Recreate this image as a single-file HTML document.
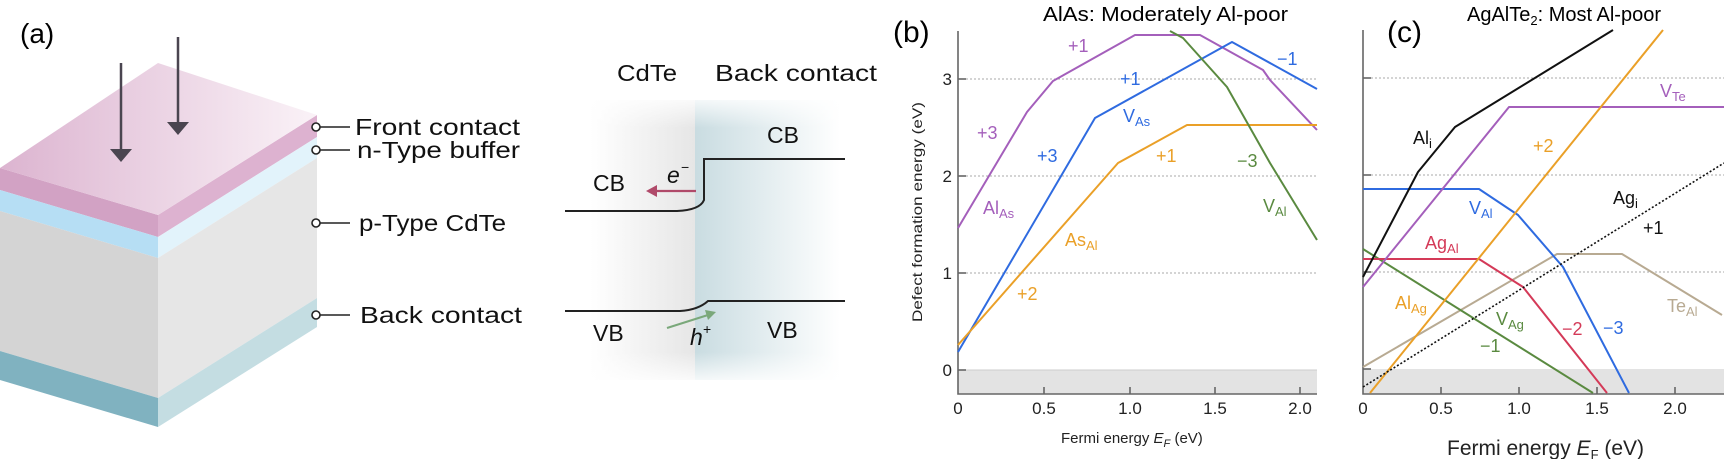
<!DOCTYPE html>
<html><head><meta charset="utf-8"><style>
html,body{margin:0;padding:0;background:#fff;}
svg{display:block;}
text{font-family:"Liberation Sans",sans-serif;}
</style></head><body>
<svg width="1724" height="459" viewBox="0 0 1724 459" xmlns="http://www.w3.org/2000/svg">
<defs>
<linearGradient id="topg" x1="0" y1="0" x2="1" y2="0">
<stop offset="0" stop-color="#dcb4d0"/><stop offset="1" stop-color="#faf2f7"/></linearGradient>
<linearGradient id="band" x1="0" y1="0" x2="1" y2="0">
<stop offset="0" stop-color="#ffffff"/><stop offset="0.42" stop-color="#e6e6e6"/>
<stop offset="0.42" stop-color="#c9dce1"/><stop offset="1" stop-color="#ffffff"/></linearGradient>
<linearGradient id="bandv" x1="0" y1="0" x2="0" y2="1">
<stop offset="0" stop-color="#fff" stop-opacity="0.8"/><stop offset="0.1" stop-color="#fff" stop-opacity="0"/>
<stop offset="0.9" stop-color="#fff" stop-opacity="0"/><stop offset="1" stop-color="#fff" stop-opacity="0.8"/></linearGradient>
</defs>

<!-- Panel (a) -->
<text x="20" y="43" font-size="28">(a)</text>
<!-- left face layers -->
<polygon points="0,168 158,215 158,237 0,190" fill="#d2a2c4"/>
<polygon points="0,190 158,237 158,258 0,211" fill="#b6def4"/>
<polygon points="0,211 158,258 158,398 0,351" fill="#d4d4d4"/>
<polygon points="0,351 158,398 158,427 0,380" fill="#80b2c0"/>
<!-- right face layers -->
<polygon points="158,215 317,115 317,137 158,237" fill="#ddb2d0"/>
<polygon points="158,237 317,137 317,158 158,258" fill="#e2f3fb"/>
<polygon points="158,258 317,158 317,298 158,398" fill="#e6e6e6"/>
<polygon points="158,398 317,298 317,327 158,427" fill="#c4dde2"/>
<!-- top face -->
<polygon points="0,168 158,63 317,115 158,215" fill="url(#topg)"/>
<!-- arrows -->
<line x1="121" y1="63" x2="121" y2="150" stroke="#4a4550" stroke-width="2.5"/>
<polygon points="110,149 132,149 121,162" fill="#4a4550"/>
<line x1="178" y1="37" x2="178" y2="123" stroke="#4a4550" stroke-width="2.5"/>
<polygon points="167,122 189,122 178,135" fill="#4a4550"/>
<!-- labels -->
<g stroke="#222" stroke-width="1.6" fill="#fff">
<line x1="320" y1="127" x2="350" y2="127"/><circle cx="316" cy="127" r="4"/>
<line x1="320" y1="150" x2="350" y2="150"/><circle cx="316" cy="150" r="4"/>
<line x1="320" y1="223" x2="350" y2="223"/><circle cx="316" cy="223" r="4"/>
<line x1="320" y1="315" x2="350" y2="315"/><circle cx="316" cy="315" r="4"/>
</g>
<g font-size="23" fill="#111">
<text x="355" y="135" textLength="165" lengthAdjust="spacingAndGlyphs">Front contact</text>
<text x="357" y="158" textLength="163" lengthAdjust="spacingAndGlyphs">n-Type buffer</text>
<text x="359" y="231" textLength="147" lengthAdjust="spacingAndGlyphs">p-Type CdTe</text>
<text x="360" y="323" textLength="162" lengthAdjust="spacingAndGlyphs">Back contact</text>
</g>
<!-- band diagram -->
<rect x="590" y="100" width="250" height="280" fill="url(#band)"/>
<rect x="590" y="100" width="250" height="280" fill="url(#bandv)"/>
<g font-size="23" fill="#111">
<text x="617" y="81" textLength="60" lengthAdjust="spacingAndGlyphs">CdTe</text>
<text x="715" y="81" textLength="162" lengthAdjust="spacingAndGlyphs">Back contact</text>
<text x="593" y="191">CB</text>
<text x="767" y="143">CB</text>
<text x="593" y="341">VB</text>
<text x="767" y="338">VB</text>
<text x="667" y="183" font-style="italic">e</text><text x="681" y="172" font-size="14">−</text>
<text x="690" y="345" font-style="italic">h</text><text x="703" y="334" font-size="14">+</text>
</g>
<path d="M565,211 L677,211 Q700,210 704,200 L704,159 L845,159" fill="none" stroke="#222" stroke-width="2"/>
<path d="M565,311 L680,311 Q698,310 708,301 L845,301" fill="none" stroke="#222" stroke-width="2"/>
<line x1="696" y1="191" x2="655" y2="191" stroke="#b04a6a" stroke-width="2.2"/>
<polygon points="646,191 657,185 657,197" fill="#b04a6a"/>
<line x1="667" y1="328" x2="708" y2="315" stroke="#7aa87a" stroke-width="2"/>
<polygon points="716,312 705,310 708,320" fill="#7aa87a"/>

<!-- Panel (b) -->
<text x="893" y="42" font-size="30">(b)</text>
<text x="1043" y="21" font-size="20" textLength="245" lengthAdjust="spacingAndGlyphs">AlAs: Moderately Al-poor</text>
<rect x="958" y="370" width="359" height="24" fill="#e3e3e3"/>
<g stroke="#aaa" stroke-width="1" stroke-dasharray="2,2">
<line x1="958" y1="273" x2="1317" y2="273"/><line x1="958" y1="176" x2="1317" y2="176"/><line x1="958" y1="79" x2="1317" y2="79"/>
</g>
<line x1="958" y1="370" x2="1317" y2="370" stroke="#ccc" stroke-width="1"/>
<g stroke="#666" stroke-width="1.6" fill="none">
<polyline points="958,31 958,394 1317,394"/>
<line x1="958" y1="370" x2="966" y2="370"/><line x1="958" y1="273" x2="966" y2="273"/>
<line x1="958" y1="176" x2="966" y2="176"/><line x1="958" y1="79" x2="966" y2="79"/>
<line x1="1044" y1="394" x2="1044" y2="387"/><line x1="1130" y1="394" x2="1130" y2="387"/>
<line x1="1215" y1="394" x2="1215" y2="387"/><line x1="1300" y1="394" x2="1300" y2="387"/>
</g>
<g font-size="17" fill="#222" text-anchor="middle">
<text x="958" y="414">0</text><text x="1044" y="414">0.5</text><text x="1130" y="414">1.0</text>
<text x="1215" y="414">1.5</text><text x="1300" y="414">2.0</text>
</g>
<g font-size="17" fill="#222" text-anchor="end">
<text x="952" y="376">0</text><text x="952" y="279">1</text><text x="952" y="182">2</text><text x="952" y="85">3</text>
</g>
<text transform="translate(922,212) rotate(-90)" font-size="14" fill="#222" text-anchor="middle" textLength="220" lengthAdjust="spacingAndGlyphs">Defect formation energy (eV)</text>
<text x="1061" y="443" font-size="15" fill="#222">Fermi energy <tspan font-style="italic">E</tspan><tspan font-style="italic" font-size="11" dy="4">F</tspan><tspan dy="-4"> (eV)</tspan></text>
<g fill="none" stroke-width="2" stroke-linejoin="round">
<polyline stroke="#a45fbb" points="958,228 1027,112 1053,81 1135,35 1200,35 1263,70 1270,80 1317,130"/>
<polyline stroke="#2f6be0" points="958,352 1095,118 1232,42 1317,89"/>
<polyline stroke="#eaa028" points="958,345 1118,163 1187,125 1317,125"/>
<polyline stroke="#5a8a40" points="1170,31 1183,38 1227,87 1270,163 1317,240"/>
</g>
<g font-size="18">
<text x="1068" y="52" fill="#a45fbb">+1</text>
<text x="977" y="139" fill="#a45fbb">+3</text>
<text x="983" y="214" fill="#a45fbb">Al<tspan font-size="13" dy="4">As</tspan></text>
<text x="1120" y="85" fill="#2f6be0">+1</text>
<text x="1123" y="122" fill="#2f6be0">V<tspan font-size="13" dy="4">As</tspan></text>
<text x="1037" y="162" fill="#2f6be0">+3</text>
<text x="1156" y="162" fill="#eaa028">+1</text>
<text x="1065" y="246" fill="#eaa028">As<tspan font-size="13" dy="4">Al</tspan></text>
<text x="1017" y="300" fill="#eaa028">+2</text>
<text x="1237" y="167" fill="#5a8a40">−3</text>
<text x="1263" y="212" fill="#5a8a40">V<tspan font-size="13" dy="4">Al</tspan></text>
<text x="1277" y="65" fill="#2f6be0">−1</text>
</g>

<!-- Panel (c) -->
<text x="1387" y="42" font-size="30">(c)</text>
<text x="1467" y="21" font-size="20">AgAlTe<tspan font-size="13" dy="4">2</tspan><tspan dy="-4">: Most Al-poor</tspan></text>
<rect x="1363" y="369" width="361" height="25" fill="#e3e3e3"/>
<g stroke="#aaa" stroke-width="1" stroke-dasharray="2,2">
<line x1="1363" y1="272" x2="1724" y2="272"/><line x1="1363" y1="175" x2="1724" y2="175"/><line x1="1363" y1="78" x2="1724" y2="78"/>
</g>
<g stroke="#666" stroke-width="1.6" fill="none">
<polyline points="1363,30 1363,394 1724,394"/>
<line x1="1363" y1="369" x2="1371" y2="369"/><line x1="1363" y1="272" x2="1371" y2="272"/>
<line x1="1363" y1="175" x2="1371" y2="175"/><line x1="1363" y1="78" x2="1371" y2="78"/>
<line x1="1441" y1="394" x2="1441" y2="387"/><line x1="1519" y1="394" x2="1519" y2="387"/>
<line x1="1597" y1="394" x2="1597" y2="387"/><line x1="1675" y1="394" x2="1675" y2="387"/>
</g>
<g font-size="17" fill="#222" text-anchor="middle">
<text x="1363" y="414">0</text><text x="1441" y="414">0.5</text><text x="1519" y="414">1.0</text>
<text x="1597" y="414">1.5</text><text x="1675" y="414">2.0</text>
</g>
<text x="1447" y="455" font-size="21" fill="#222">Fermi energy <tspan font-style="italic">E</tspan><tspan font-size="13" dy="4">F</tspan><tspan dy="-4"> (eV)</tspan></text>
<g fill="none" stroke-width="2" stroke-linejoin="round">
<polyline stroke="#b8aa92" points="1363,367 1557,254 1622,254 1722,315"/>
<polyline stroke="#5a8a40" points="1363,249 1593,393"/>
<polyline stroke="#d43a58" points="1363,259 1479,259 1523,287 1607,393"/>
<polyline stroke="#2f6be0" points="1363,189 1479,189 1518,215 1563,267 1629,393"/>
<polyline stroke="#a45fbb" points="1363,287 1509,107 1724,107"/>
<polyline stroke="#111" points="1363,277 1418,172 1455,127 1613,30"/>
<polyline stroke="#eaa028" points="1370,393 1663,30"/>
<line x1="1363" y1="387" x2="1724" y2="163" stroke="#111" stroke-width="1.6" stroke-dasharray="2,2"/>
</g>
<g font-size="18">
<text x="1413" y="144" fill="#111">Al<tspan font-size="13" dy="4">i</tspan></text>
<text x="1660" y="97" fill="#a45fbb">V<tspan font-size="13" dy="4">Te</tspan></text>
<text x="1533" y="152" fill="#eaa028">+2</text>
<text x="1613" y="204" fill="#111">Ag<tspan font-size="13" dy="4">i</tspan></text>
<text x="1643" y="234" fill="#111">+1</text>
<text x="1469" y="214" fill="#2f6be0">V<tspan font-size="13" dy="4">Al</tspan></text>
<text x="1425" y="249" fill="#d43a58">Ag<tspan font-size="13" dy="4">Al</tspan></text>
<text x="1395" y="309" fill="#eaa028">Al<tspan font-size="13" dy="4">Ag</tspan></text>
<text x="1496" y="325" fill="#5a8a40">V<tspan font-size="13" dy="4">Ag</tspan></text>
<text x="1480" y="352" fill="#5a8a40">−1</text>
<text x="1562" y="335" fill="#d43a58">−2</text>
<text x="1603" y="334" fill="#2f6be0">−3</text>
<text x="1667" y="312" fill="#b8aa92">Te<tspan font-size="13" dy="4">Al</tspan></text>
</g>
</svg>
</body></html>
